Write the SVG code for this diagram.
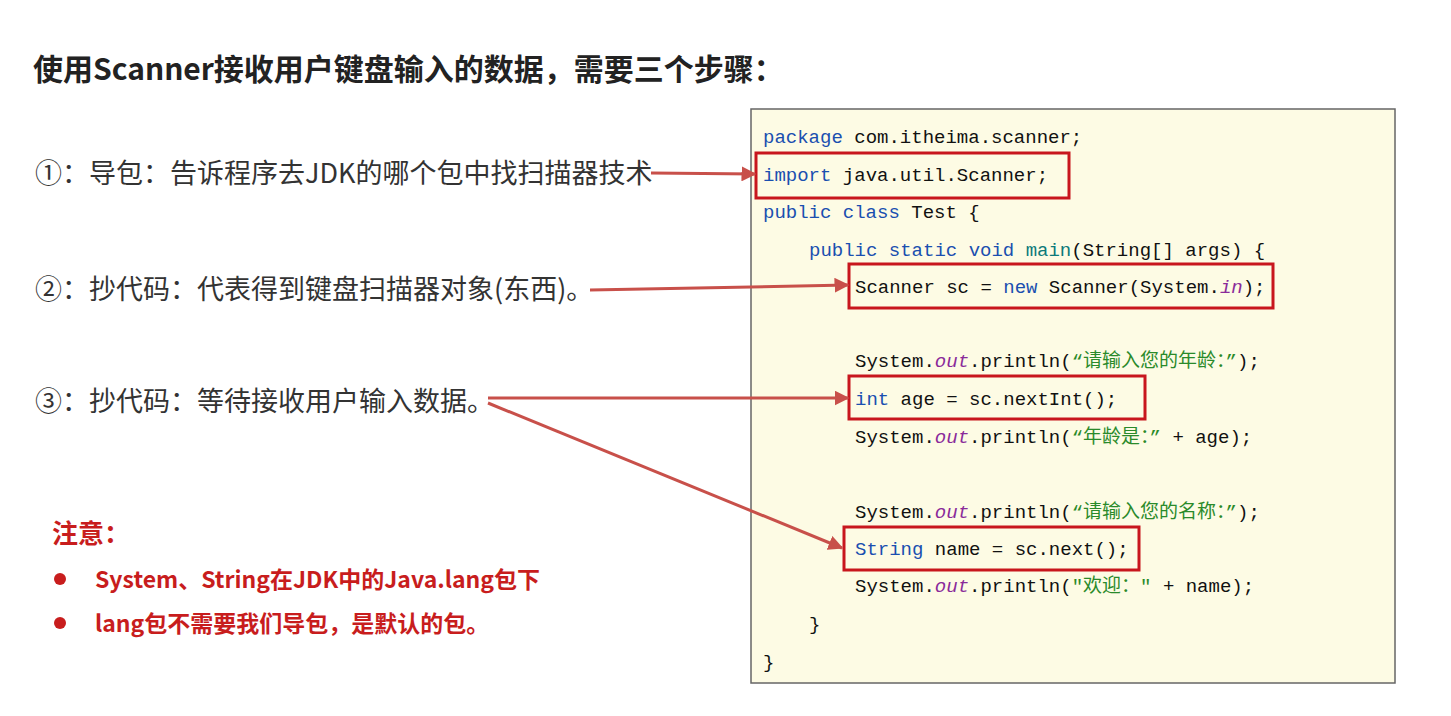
<svg xmlns="http://www.w3.org/2000/svg" width="1451" height="716" viewBox="0 0 1451 716">
<defs>
<marker id="ah" viewBox="0 0 10 10" refX="9" refY="5" markerWidth="5" markerHeight="5" orient="auto"><path d="M0,0 L10,5 L0,10 z" fill="#c8504a"/></marker>
<style>
.t{font-family:"Noto Sans CJK SC","Noto Sans",sans-serif;fill:#333;font-size:27px}
.c{font-family:"Liberation Mono","Noto Sans CJK SC",monospace;font-size:19px;fill:#111}
.k{fill:#1a4fb0}.m{fill:#0c7a7a}.o{fill:#8a2a9a;font-style:italic}.s{fill:#2a8a2a}
.hl{fill:none;stroke:#c8161d;stroke-width:3}
.n{font-family:"Noto Sans CJK SC","Noto Sans",sans-serif;fill:#c81d1d;font-weight:bold}
.ar{stroke:#c8504a;stroke-width:3;fill:none;marker-end:url(#ah)}
</style>
</defs>
<rect width="1451" height="716" fill="#fff"/>
<text x="33" y="80" class="t" style="font-weight:bold;fill:#222;font-size:30px">使用Scanner接收用户键盘输入的数据，需要三个步骤：</text>
<g id="step1"><text x="35" y="183" class="t">①：导包：告诉程序去JDK的哪个包中找扫描器技术</text></g>
<g id="step2"><text x="35" y="299" class="t">②：抄代码：代表得到键盘扫描器对象(东西)。</text></g>
<g id="step3"><text x="35" y="411" class="t">③：抄代码：等待接收用户输入数据。</text></g>
<g id="note">
<text x="52" y="543" class="n" font-size="26">注意：</text>
<circle cx="60" cy="579" r="6" fill="#c81d1d"/>
<text x="95" y="588" class="n" font-size="23">System、String在JDK中的Java.lang包下</text>
<circle cx="60" cy="623" r="6" fill="#c81d1d"/>
<text x="95" y="632" class="n" font-size="23">lang包不需要我们导包，是默认的包。</text>
</g>
<g id="code">
<rect x="751" y="109" width="644" height="574" fill="#fdfbe4" stroke="#666" stroke-width="1.5"/>
<text x="763" y="143" class="c"><tspan class="k">package</tspan> com.itheima.scanner;</text>
<text x="763" y="181" class="c"><tspan class="k">import</tspan> java.util.Scanner;</text>
<text x="763" y="218" class="c"><tspan class="k">public class</tspan> Test {</text>
<text x="809" y="256" class="c"><tspan class="k">public static void</tspan> <tspan class="m">main</tspan>(String[] args) {</text>
<text x="855" y="293" class="c">Scanner sc = <tspan class="k">new</tspan> Scanner(System.<tspan class="o">in</tspan>);</text>
<text x="855" y="367" class="c">System.<tspan class="o">out</tspan>.println(<tspan class="s">“请输入您的年龄：”</tspan>);</text>
<text x="855" y="405" class="c"><tspan class="k">int</tspan> age = sc.nextInt();</text>
<text x="855" y="443" class="c">System.<tspan class="o">out</tspan>.println(<tspan class="s">“年龄是：”</tspan> + age);</text>
<text x="855" y="518" class="c">System.<tspan class="o">out</tspan>.println(<tspan class="s">“请输入您的名称：”</tspan>);</text>
<text x="855" y="555" class="c"><tspan class="k">String</tspan> name = sc.next();</text>
<text x="855" y="592" class="c">System.<tspan class="o">out</tspan>.println(<tspan class="s">"欢迎："</tspan> + name);</text>
<text x="809" y="630" class="c">}</text>
<text x="763" y="668" class="c">}</text>
<rect x="756" y="153" width="313" height="45" class="hl"/>
<rect x="849" y="264" width="424" height="44" class="hl"/>
<rect x="849" y="376" width="296" height="43" class="hl"/>
<rect x="844" y="527" width="295" height="43" class="hl"/>
</g>
<g id="connectors">
<line x1="651" y1="173" x2="755" y2="174" class="ar"/>
<line x1="590" y1="290" x2="848" y2="285" class="ar"/>
<line x1="488" y1="398" x2="848" y2="398" class="ar"/>
<line x1="488" y1="403" x2="842" y2="548" class="ar"/>
</g>
</svg>
